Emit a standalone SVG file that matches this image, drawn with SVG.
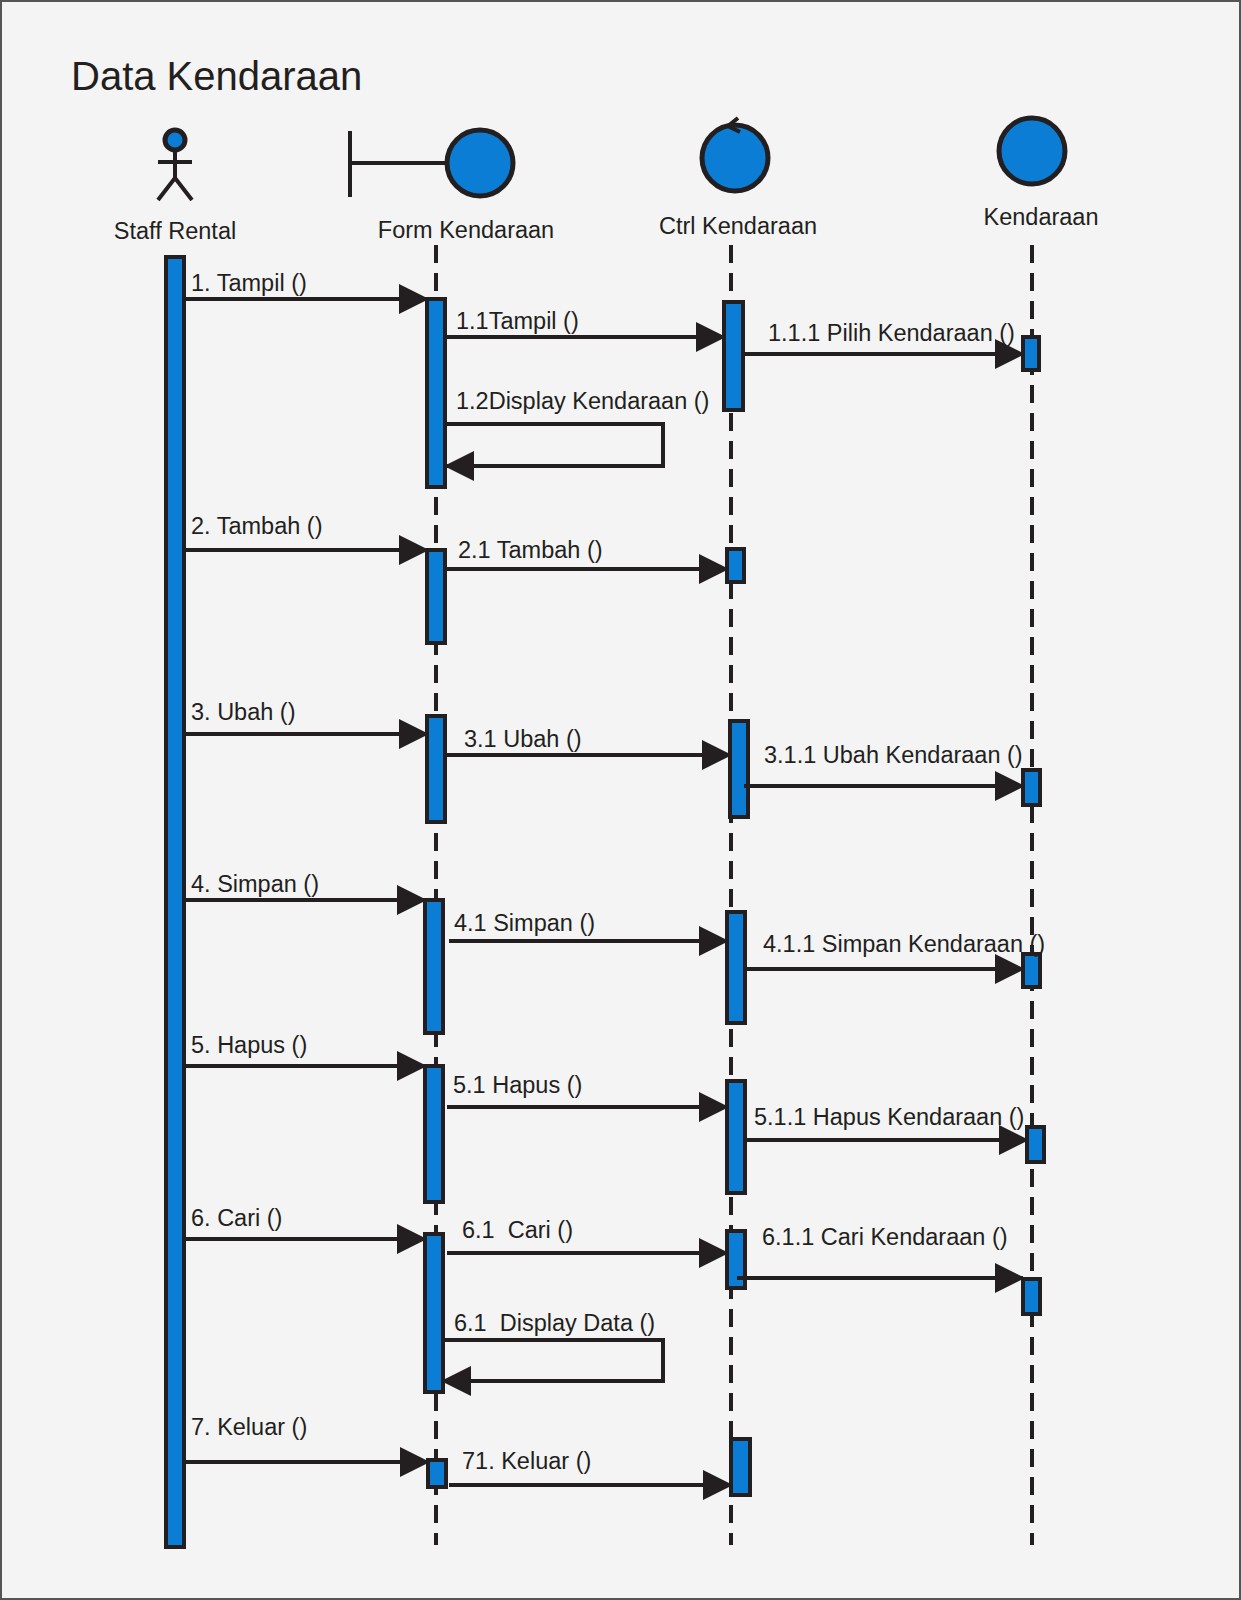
<svg xmlns="http://www.w3.org/2000/svg" width="1241" height="1600" viewBox="0 0 1241 1600">
<style>
text{font-family:"Liberation Sans",Arial,sans-serif;font-size:23.5px;fill:#231f20}
.ll{stroke:#231f20;stroke-width:4;stroke-dasharray:18,10}
.act{fill:#0b7dd4;stroke:#231f20;stroke-width:4}
.msg{stroke:#231f20;stroke-width:4;fill:none;marker-end:url(#ah)}
.fig{fill:#0b7dd4;stroke:#231f20;stroke-width:5}
</style>
<defs><marker id="ah" markerUnits="userSpaceOnUse" viewBox="0 0 30 30" refX="28" refY="15" markerWidth="30" markerHeight="30" orient="auto"><path d="M0,0 L30,15 L0,30 Z" fill="#231f20"/></marker></defs>
<rect x="1" y="1" width="1239" height="1598" fill="#f4f4f4" stroke="#555" stroke-width="2"/>
<text x="71" y="90" style="font-size:40px">Data Kendaraan</text>
<g id="staff">
<circle cx="175" cy="140" r="10" class="fig" stroke-width="4"/>
<path d="M175,150 V178 M158,162 H192 M175,178 L158,200 M175,178 L192,200" stroke="#231f20" stroke-width="4" fill="none"/>
<text x="175" y="239" text-anchor="middle">Staff Rental</text>
<rect x="166" y="257" width="18" height="1290" class="act"/>
</g>
<g id="form">
<path d="M350,131 V197 M350,163 H447" stroke="#231f20" stroke-width="4"/>
<circle cx="480" cy="163" r="33" class="fig"/>
<text x="466" y="238" text-anchor="middle">Form Kendaraan</text>
<line x1="436" y1="245" x2="436" y2="1545" class="ll"/>
</g>
<g id="ctrl">
<circle cx="735" cy="158" r="33" class="fig"/>
<path d="M738,118 L728,126 L740,132" stroke="#231f20" stroke-width="4" fill="none"/>
<text x="738" y="234" text-anchor="middle">Ctrl Kendaraan</text>
<line x1="731" y1="245" x2="731" y2="1545" class="ll"/>
</g>
<g id="kendaraan">
<circle cx="1032" cy="151" r="33" class="fig"/>
<text x="1041" y="225" text-anchor="middle">Kendaraan</text>
<line x1="1032" y1="245" x2="1032" y2="1545" class="ll"/>
</g>
<g id="activations">
<rect x="427" y="299" width="18" height="188" class="act"/>
<rect x="724" y="302" width="19" height="108" class="act"/>
<rect x="1023" y="337" width="16" height="33" class="act"/>
<rect x="427" y="550" width="18" height="93" class="act"/>
<rect x="727" y="549" width="17" height="33" class="act"/>
<rect x="427" y="716" width="18" height="106" class="act"/>
<rect x="730" y="721" width="18" height="96" class="act"/>
<rect x="1023" y="770" width="17" height="35" class="act"/>
<rect x="425" y="900" width="18" height="133" class="act"/>
<rect x="727" y="912" width="18" height="111" class="act"/>
<rect x="1023" y="954" width="17" height="33" class="act"/>
<rect x="425" y="1066" width="18" height="136" class="act"/>
<rect x="727" y="1081" width="18" height="112" class="act"/>
<rect x="1027" y="1127" width="17" height="35" class="act"/>
<rect x="425" y="1234" width="18" height="158" class="act"/>
<rect x="727" y="1231" width="18" height="57" class="act"/>
<rect x="1023" y="1279" width="17" height="35" class="act"/>
<rect x="428" y="1460" width="18" height="27" class="act"/>
<rect x="731" y="1439" width="19" height="56" class="act"/>
</g>
<g id="connectors">
<line x1="184" y1="299" x2="427" y2="299" class="msg"/>
<line x1="446" y1="337" x2="724" y2="337" class="msg"/>
<line x1="744" y1="354" x2="1023" y2="354" class="msg"/>
<path d="M446,424 H663 V466 H446" class="msg"/>
<line x1="184" y1="550" x2="427" y2="550" class="msg"/>
<line x1="446" y1="569" x2="727" y2="569" class="msg"/>
<line x1="184" y1="734" x2="427" y2="734" class="msg"/>
<line x1="446" y1="755" x2="730" y2="755" class="msg"/>
<line x1="744" y1="786" x2="1023" y2="786" class="msg"/>
<line x1="184" y1="900" x2="425" y2="900" class="msg"/>
<line x1="449" y1="941" x2="727" y2="941" class="msg"/>
<line x1="745" y1="969" x2="1023" y2="969" class="msg"/>
<line x1="184" y1="1066" x2="425" y2="1066" class="msg"/>
<line x1="447" y1="1107" x2="727" y2="1107" class="msg"/>
<line x1="745" y1="1140" x2="1027" y2="1140" class="msg"/>
<line x1="184" y1="1239" x2="425" y2="1239" class="msg"/>
<line x1="447" y1="1253" x2="727" y2="1253" class="msg"/>
<line x1="737" y1="1278" x2="1023" y2="1278" class="msg"/>
<path d="M443,1340 H663 V1381 H443" class="msg"/>
<line x1="184" y1="1462" x2="428" y2="1462" class="msg"/>
<line x1="449" y1="1485" x2="731" y2="1485" class="msg"/>
</g>
<g id="labels">
<text x="191" y="291">1. Tampil ()</text>
<text x="456" y="329">1.1Tampil ()</text>
<text x="768" y="341">1.1.1 Pilih Kendaraan ()</text>
<text x="456" y="409">1.2Display Kendaraan ()</text>
<text x="191" y="534">2. Tambah ()</text>
<text x="458" y="558">2.1 Tambah ()</text>
<text x="191" y="720">3. Ubah ()</text>
<text x="464" y="747">3.1 Ubah ()</text>
<text x="764" y="763">3.1.1 Ubah Kendaraan ()</text>
<text x="191" y="892">4. Simpan ()</text>
<text x="454" y="931">4.1 Simpan ()</text>
<text x="763" y="952">4.1.1 Simpan Kendaraan ()</text>
<text x="191" y="1053">5. Hapus ()</text>
<text x="453" y="1093">5.1 Hapus ()</text>
<text x="754" y="1125">5.1.1 Hapus Kendaraan ()</text>
<text x="191" y="1226">6. Cari ()</text>
<text x="462" y="1238" xml:space="preserve">6.1  Cari ()</text>
<text x="762" y="1245">6.1.1 Cari Kendaraan ()</text>
<text x="454" y="1331" xml:space="preserve">6.1  Display Data ()</text>
<text x="191" y="1435">7. Keluar ()</text>
<text x="462" y="1469">71. Keluar ()</text>
</g>
</svg>
